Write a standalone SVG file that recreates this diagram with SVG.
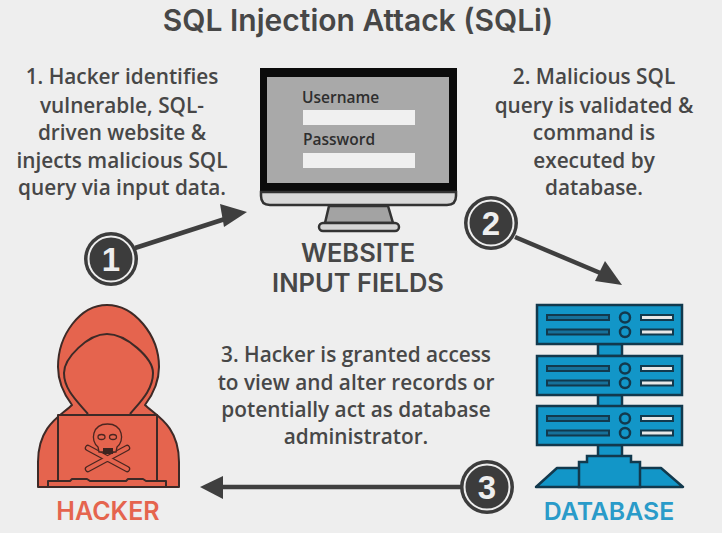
<svg xmlns="http://www.w3.org/2000/svg" width="722" height="533" viewBox="0 0 722 533">
<style>
text{font-family:"Open Sans","Liberation Sans",sans-serif;fill:#474747;text-anchor:middle}
.t{font-size:20.8px;font-weight:600}
.h{font-family:Inter,"Liberation Sans",sans-serif;font-weight:600;font-size:25.500px}
.n{font-family:"Liberation Sans",sans-serif;font-weight:700;font-size:33px;fill:#eee}
.c{stroke:#3f3f3f;stroke-width:4.5;fill:none}
.rc{fill:#e5644e;stroke:#3d2a27;stroke-width:2;stroke-linejoin:round}
.sk{fill:none;stroke:#4b2620;stroke-width:1.3}
.bo{stroke:#4b2620;stroke-width:6.500;stroke-linecap:round;fill:none}
.bi{stroke:#e5644e;stroke-width:4;stroke-linecap:round;fill:none}
.db{fill:#1296c8;stroke:#12394d;stroke-width:2.5}
.bar{fill:#17719a;stroke:#12394d;stroke-width:2}
.wb{fill:#e8e8e8;stroke:#12394d;stroke-width:2}
.f{fill:#f0f0f0}
.lb{font-size:15.5px;font-weight:600;fill:#2e2e2e;text-anchor:start}
</style>
<defs>
<g id="badge"><circle r="27" fill="#3c3c3c"/><circle r="22.5" fill="none" stroke="#eee" stroke-width="2"/></g>
<g id="unit">
<rect class="db" x="537" y="0" width="145" height="39"/>
<rect class="bar" x="547" y="10" width="62" height="5"/><rect class="bar" x="547" y="24.500" width="62" height="5"/>
<circle class="db" cx="625" cy="12.500" r="5"/><circle class="db" cx="625" cy="27" r="5"/>
<rect class="wb" x="641" y="10" width="32" height="5"/><rect class="wb" x="641" y="24.500" width="32" height="5"/>
</g>
</defs>
<rect width="722" height="533" fill="#eeeeee"/>
<text x="358" y="31" style="font-family:Inter,'Liberation Sans',sans-serif;font-weight:600;font-size:30px">SQL Injection Attack (SQLi)</text>
<g id="step1-text"><text class="t" x="122" y="84">1. Hacker identifies</text><text class="t" x="122" y="113">vulnerable, SQL-</text><text class="t" x="122" y="140">driven website &amp;</text><text class="t" x="122" y="168">injects malicious SQL</text><text class="t" x="122" y="195">query via input data.</text></g>
<g id="step2-text"><text class="t" x="594" y="84">2. Malicious SQL</text><text class="t" x="594" y="113">query is validated &amp;</text><text class="t" x="594" y="140">command is</text><text class="t" x="594" y="168">executed by</text><text class="t" x="594" y="195">database.</text></g>
<g id="step3-text"><text class="t" x="356" y="362">3. Hacker is granted access</text><text class="t" x="356" y="390">to view and alter records or</text><text class="t" x="356" y="417">potentially act as database</text><text class="t" x="356" y="444">administrator.</text></g>
<g id="website">
<rect x="260" y="68" width="197" height="124" fill="#0b0b0b"/>
<rect x="267" y="77" width="182" height="106" fill="#a9a9a9"/>
<path d="M261 192H456V196Q456 205 447 205H270Q261 205 261 196Z" fill="#d9d9d9" stroke="#333" stroke-width="2.500"/>
<path d="M329 206H388L393 223H325Z" fill="#a3a3a3" stroke="#333" stroke-width="2.500"/>
<rect x="319" y="223" width="80" height="8" rx="4" fill="#d5d5d5" stroke="#333" stroke-width="2.500"/>
<text class="lb" x="302" y="103">Username</text><rect class="f" x="303" y="110" width="112" height="15"/>
<text class="lb" x="303" y="145">Password</text><rect class="f" x="303" y="153" width="112" height="15"/>
<text class="h" x="358" y="262">WEBSITE</text>
<text class="h" x="358" y="292">INPUT FIELDS</text>
</g>
<g id="hacker">
<path class="rc" d="M107 305C80 305 58 335 58 367C58 385 66 397 72 405C62 415 38 425 38 462V487H179V462C179 425 155 415 145 405C151 397 159 385 159 367C159 335 134 305 107 305Z"/>
<path class="rc" d="M88 414C78 402 64 390 64 373C64 358 88 334 107 334C126 334 153 358 153 373C153 390 140 402 130 414"/>
<rect class="rc" x="58" y="415" width="99" height="67"/>
<path class="rc" d="M48 487V481H70L72 479H87L90 481H126L128 479H143L146 481H166V487Z"/>
<path class="bo" d="M88 448L127 469M127 448L88 469"/><path class="bi" d="M88 448L127 469M127 448L88 469"/>
<path class="rc" style="stroke-width:1.300;stroke:#4b2620" d="M98 447C90 441 92 424 107.500 424C123 424 125 441 117 447L116 452H99Z"/>
<ellipse class="sk" cx="101.500" cy="437" rx="3.500" ry="2.500"/><ellipse class="sk" cx="113" cy="437" rx="3.500" ry="2.500"/>
<rect x="103" y="448" width="10" height="6" fill="#3d2420"/>
<text x="108" y="520" style="font-family:Inter,'Liberation Sans',sans-serif;font-weight:600;font-size:25px;fill:#e5644e">HACKER</text>
</g>
<g id="database">
<rect class="db" x="598" y="344" width="24" height="12"/><rect class="db" x="598" y="395" width="24" height="12"/><rect class="db" x="598" y="445" width="24" height="12"/>
<use href="#unit" y="305"/><use href="#unit" y="356"/><use href="#unit" y="406"/>
<path class="db" d="M536 487L557 468H661L683 487Z" stroke-linejoin="round"/>
<path class="db" d="M579 487V462H587V456H631V462H640V487Z"/>
<text x="609" y="520" style="font-family:Inter,'Liberation Sans',sans-serif;font-weight:600;font-size:24.800px;fill:#2a9bc9">DATABASE</text>
</g>
<g id="connectors">
<path class="c" d="M135 248L228 218"/><path d="M247 212L224 227L220 204Z" fill="#3f3f3f"/>
<path class="c" d="M515 237L605 275"/><path d="M622 285L595 281L605 261Z" fill="#3f3f3f"/>
<path class="c" d="M462 487H222"/><path d="M200 487L223 476V499Z" fill="#3f3f3f"/>
</g>
<g id="badge1"><use href="#badge" x="111" y="259"/><text class="n" x="111" y="271">1</text></g>
<g id="badge2"><use href="#badge" x="491" y="223"/><text class="n" x="491" y="235">2</text></g>
<g id="badge3"><use href="#badge" x="487" y="487"/><text class="n" x="487" y="499">3</text></g>
</svg>
